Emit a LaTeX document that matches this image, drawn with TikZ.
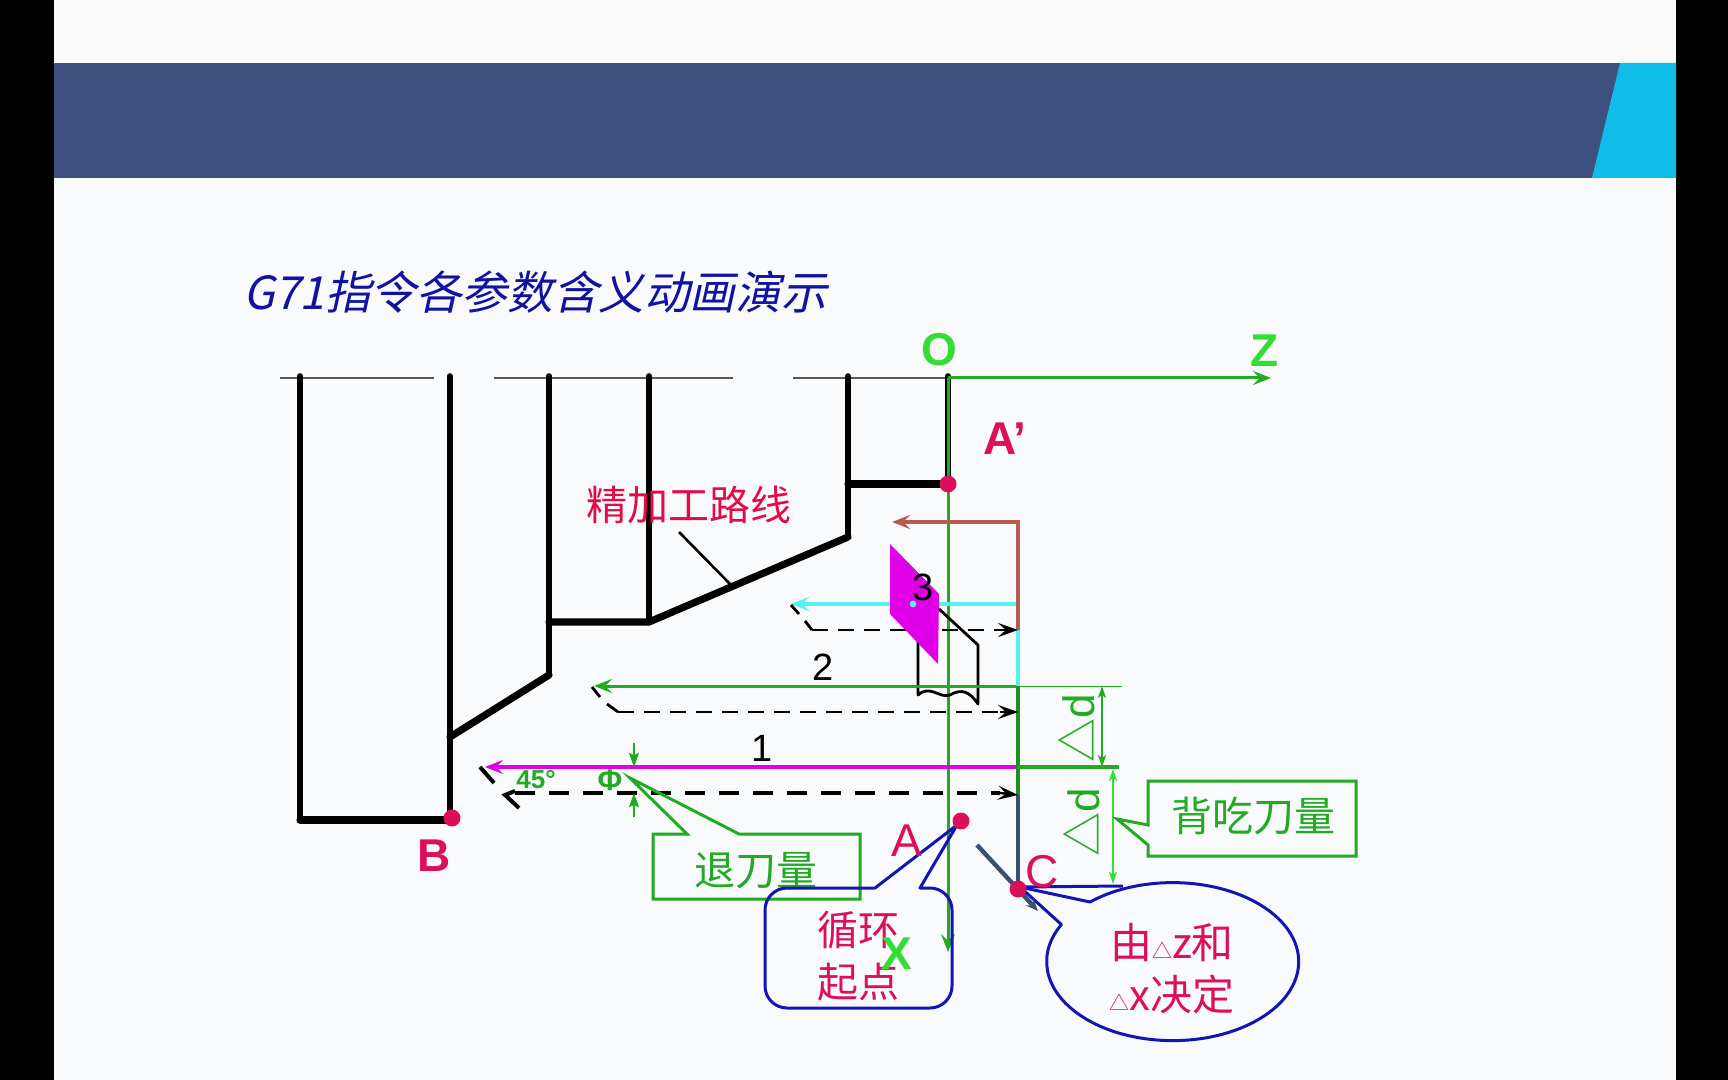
\documentclass[tikz,border=0pt]{standalone}
\usepackage{fontspec}
\setmainfont{Liberation Sans}
\newfontfamily\cjk{Noto Sans CJK SC}
\newfontfamily\cjkit[AutoFakeSlant=0.22]{Noto Sans CJK SC}
\usetikzlibrary{arrows.meta}
\definecolor{bgpage}{HTML}{F9FAFC}
\definecolor{bgtop}{HTML}{FAFAFA}
\definecolor{band}{HTML}{3E5080}
\definecolor{cyanbar}{HTML}{0FBDE8}
\definecolor{lgreen}{HTML}{33DD33}
\definecolor{dgreen}{HTML}{22AA22}
\definecolor{crim}{HTML}{DD0F5A}
\definecolor{navy}{HTML}{1414B4}
\definecolor{brownr}{HTML}{B85A50}
\definecolor{cyanl}{HTML}{55F0F0}
\definecolor{magl}{HTML}{E000E8}
\definecolor{slate}{HTML}{3A5070}
\tikzset{
  x=0.5pt,y=-0.5pt,
  every node/.style={inner sep=0pt,outer sep=0pt},
  part/.style={line width=2.8pt,black,line cap=round,line join=miter},
  thickpart/.style={line width=3.6pt,black,line cap=round,line join=miter},
  tip/.style={-{Stealth[length=9pt,width=7pt,inset=3.5pt]}},
  endtip/.style={-{Stealth[length=10pt,width=7pt,inset=4pt]}},
  smalltip/.style={-{Stealth[length=7pt,width=5pt,inset=1pt]}},
  dot/.style={circle,fill=crim,minimum size=8.5pt},
  cjktext/.style={font=\cjk\fontsize{20.5pt}{24pt}\selectfont,align=center},
  biglabel/.style={font=\bfseries\fontsize{23pt}{23pt}\selectfont},
  num/.style={font=\fontsize{19pt}{19pt}\selectfont,black},
}
\begin{document}
\begin{tikzpicture}
\useasboundingbox (0,0) rectangle (1728,1080);
% page
\fill[black] (0,0) rectangle (1728,1080);
\fill[bgpage] (54,0) rectangle (1676,1080);
\fill[bgtop] (54,0) rectangle (1676,63);
\fill[band] (54,63) rectangle (1676,178);
\fill[cyanbar] (1620,63) -- (1676,63) -- (1676,178) -- (1592,178) -- cycle;
\node[anchor=west,font=\cjkit\itshape\fontsize{22.8pt}{27pt}\selectfont,text=navy!90!black] (title) at (243,292) {G71指令各参数含义动画演示};

% top reference line
\draw[line width=0.8pt,black!65] (280,378) -- (434,378) (494,378) -- (733,378) (793,378) -- (946,378);

% coordinates of the part profile
\coordinate (Ap) at (948,484);
\coordinate (s1) at (848,484);
\coordinate (s2) at (848,537);
\coordinate (s3) at (649,622);
\coordinate (s4) at (549,622);
\coordinate (s5) at (549,675);
\coordinate (s6) at (450,737);
\coordinate (B)  at (450,820);
\coordinate (L)  at (300,820);

\draw[part] (300,376) -- (L);
\draw[part] (450,376) -- (B);
\draw[part] (549,376) -- (s5);
\draw[part] (649,376) -- (s3);
\draw[part] (848,376) -- (s2);
\draw[part] (948,376) -- (Ap);
\draw[thickpart] (Ap) -- (s1);
\draw[thickpart] (s2) -- (s3) -- (s4);
\draw[thickpart] (s5) -- (s6);
\draw[thickpart] (B) -- (L);

% leader
\coordinate (lead1) at (679,532);
\coordinate (lead2) at (730,584);
\draw[line width=1.3pt,black] (lead1) -- (lead2);
\node[cjktext,text=crim!80!red] (fine) at (689,505) {精加工路线};

% axes
\coordinate (O) at (948,378);
\coordinate (Zend) at (1271,378);
\coordinate (Xend) at (948,952);
\draw[dgreen,line width=1.5pt,tip] (O) -- (Zend);
\draw[dgreen,line width=1.5pt,tip] (O) -- (Xend);
\node[biglabel,text=lgreen] (Olab) at (939,350) {O};
\node[biglabel,text=lgreen] (Zlab) at (1265,351) {Z};

% tool holder
\draw[black,line width=1.4pt,line join=round] (939,609) -- (978,645) -- (978,704)
  .. controls (970,692) and (962,688) .. (950,695)
  .. controls (940,699) and (930,684) .. (918,695) -- (918,641);

% cutting paths
\coordinate (R) at (1018,522);
\coordinate (Rb) at (1018,630);
\coordinate (Gy) at (1018,686);
\coordinate (My) at (1018,767);
\coordinate (Dy) at (1018,795);
\coordinate (C)  at (1018,889);

\draw[cyanl,line width=2pt,tip] (Rb |- 0,604) -- (791,604);
\draw[dgreen,line width=1.5pt,tip] (Gy) -- (594,686);
\draw[magl,line width=2.4pt,tip] (My) -- (485,767);
\draw[brownr,line width=2pt,tip] (Rb) -- (R) -- (892,522);
\draw[cyanl,line width=2pt] (Rb) -- (Gy);
\draw[dgreen!85!black,line width=2.4pt] (Gy) -- (Dy);
\draw[slate,line width=2.4pt] (Dy) -- (C);

% returning dashed paths
\draw[black,line width=1.4pt] (791,605) -- (799,614) (805,621) -- (812,630);
\draw[black,line width=1.4pt,dash pattern=on 8pt off 5pt] (812,630) -- (1000,630);
\draw[black,line width=1.2pt,endtip] (1000,630) -- (Rb);
\draw[black,line width=1.4pt] (592,687) -- (600,697) (607,704) -- (618,712);
\draw[black,line width=1.4pt,dash pattern=on 8pt off 5pt] (618,712) -- (1000,712);
\draw[black,line width=1.2pt,endtip] (1000,712) -- (1018,712);
\draw[black,line width=2pt] (480,767) -- (494,783);
\draw[black,line width=2pt] (519,808) -- (505,795) -- (515,791);
\draw[black,line width=2.4pt,dash pattern=on 10pt off 7pt] (515,793) -- (1000,793);
\draw[black,line width=1.2pt,endtip] (1000,793) -- (Dy);

% insert and number 3
\fill[magl] (890,544) -- (939,594) -- (938,664) -- (890,614) -- cycle;
\fill[cyanl] (913,604) circle (1.7pt);
\node[num] (n3) at (923,587) {3};
\node[num] (n2) at (823,667) {2};
\node[num] (n1) at (762,748) {1};

% small retract dimension
\coordinate (r1) at (634,743);
\coordinate (r2) at (634,767);
\coordinate (r3) at (634,817);
\coordinate (r4) at (634,793);
\draw[dgreen,line width=0.9pt,smalltip] (r1) -- (r2);
\draw[dgreen,line width=0.9pt,smalltip] (r3) -- (r4);
\node[font=\bfseries\fontsize{13pt}{13pt}\selectfont,text=dgreen] (ang) at (536,780) {45°};
\node[font=\bfseries\fontsize{15pt}{15pt}\selectfont,text=dgreen] (phi) at (610,780) {Φ};

% retract callout
\draw[dgreen,line width=1.5pt,line join=miter] (687,834) -- (630,778) -- (739,834) -- (860,834) -- (860,899) -- (653,899) -- (653,834) -- cycle;
\node[cjktext,text=dgreen] (retract) at (756,871) {退刀量};

% depth dimensions
\draw[dgreen,line width=0.5pt] (Gy) -- (1122,686);
\draw[dgreen,line width=1.8pt] (My) -- (1119,767);
\coordinate (d1) at (1102,686);
\coordinate (d2) at (1102,767);
\coordinate (d3) at (1113,769);
\coordinate (d4) at (1113,884);
\draw[dgreen,line width=0.6pt,{Stealth[length=6pt,width=4pt,inset=1.5pt]}-{Stealth[length=6pt,width=4pt,inset=1.5pt]}] (d1) -- (d2);
\draw[lgreen,line width=1.1pt,{Stealth[length=6pt,width=4pt,inset=1.5pt]}-{Stealth[length=6pt,width=4pt,inset=1.5pt]}] (d3) -- (d4);
\node[rotate=90,text=dgreen,font=\fontsize{22pt}{22pt}\selectfont] (dd1) at (1077,728) {{\cjk △}d};
\node[rotate=90,text=dgreen,font=\fontsize{22pt}{22pt}\selectfont] (dd2) at (1082,822) {{\cjk △}d};

% depth callout
\draw[dgreen,line width=1.5pt,line join=miter] (1148,825) -- (1117,819) -- (1148,845) -- (1148,856) -- (1356,856) -- (1356,781) -- (1148,781) -- cycle;
\node[cjktext,text=dgreen] (depth) at (1253,816) {背吃刀量};

% cycle start callout
\coordinate (Atip) at (957,825);
\draw[navy,line width=1.5pt,line join=round] (875,888) -- (Atip) -- (920,888)
  -- (930,888) arc[start angle=90,end angle=0,radius=11pt] -- (952,986)
  arc[start angle=0,end angle=-90,radius=11pt] -- (787,1008)
  arc[start angle=-90,end angle=-180,radius=11pt] -- (765,910)
  arc[start angle=180,end angle=90,radius=11pt] -- cycle;
\node[cjktext,text=crim,align=center,font=\cjk\fontsize{20.5pt}{26pt}\selectfont] (start) at (858,956) {循环\\起点};
\node[font=\bfseries\fontsize{23pt}{23pt}\selectfont,text=lgreen] (Xlab) at (897,954) {X};

% C callout
\coordinate (Ctip) at (1020,887);
\draw[navy,line width=1.5pt,line join=round] (1090,902)
  arc[start angle=131,end angle=-208,x radius=63pt,y radius=39.5pt] -- (Ctip) -- cycle;
\draw[navy,line width=1.5pt] (Ctip) -- (1123,886);
\node[cjktext,text=crim,align=center,font=\cjk\fontsize{21pt}{26pt}\selectfont] (how) at (1172,969)
  {由{\fontsize{10pt}{10pt}\selectfont △}z和\\{\fontsize{10pt}{10pt}\selectfont △}x决定};

% cut-in diagonal
\coordinate (c1) at (977,845);
\coordinate (c2) at (1038,911);
\draw[slate,line width=2.2pt,-{Stealth[length=6pt,width=5pt,inset=2pt]}] (c1) -- (c2);

% dots and point labels
\node[dot] (dAp) at (Ap) {};
\node[dot] (dB) at (452,818) {};
\node[dot] (dA) at (961,821) {};
\node[dot] (dC) at (C) {};
\node[biglabel,text=crim] (lAp) at (1005,439) {A’};
\node[biglabel,text=crim] (lB) at (434,856) {B};
\node[font=\fontsize{23pt}{23pt}\selectfont,text=crim] (lA) at (907,841) {A};
\node[font=\fontsize{23pt}{23pt}\selectfont,text=crim] (lC) at (1042,872) {C};
\end{tikzpicture}
\end{document}
